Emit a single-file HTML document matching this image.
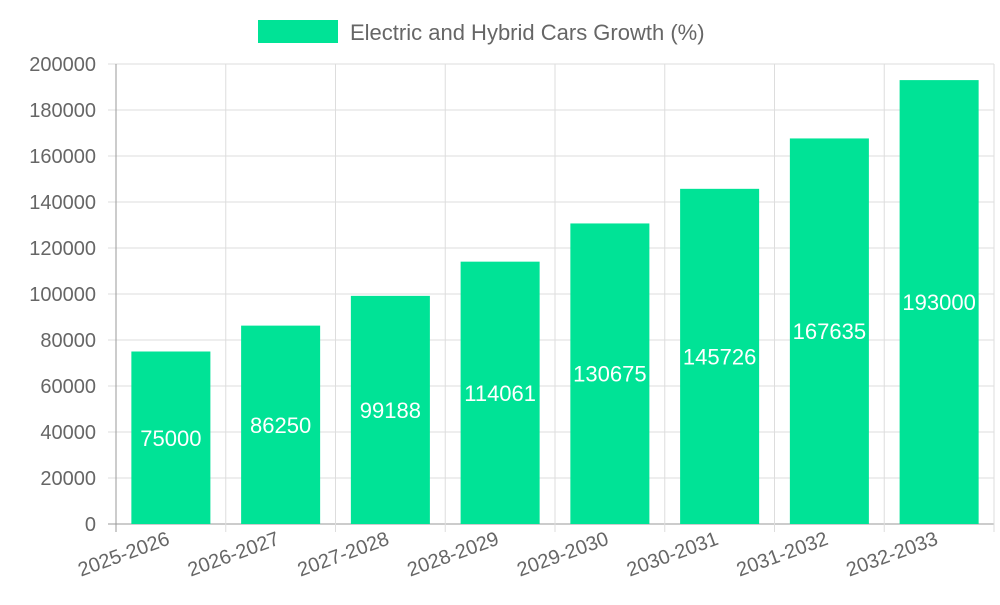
<!DOCTYPE html>
<html><head><meta charset="utf-8"><style>
body{margin:0;background:#fff;}
svg text{font-family:"Liberation Sans",sans-serif;}
</style></head><body>
<svg id="chart" width="1000" height="600" xmlns="http://www.w3.org/2000/svg">
<g>
<rect x="258" y="20" width="80" height="23" fill="#00e396"/>
<text x="350" y="40" font-size="22" fill="#666">Electric and Hybrid Cars Growth (%)</text>
</g>
<g id="grid"></g>
<g id="bars"></g>
<g id="axes"></g>
</svg>
<script>
const categories=["2025-2026","2026-2027","2027-2028","2028-2029","2029-2030","2030-2031","2031-2032","2032-2033"];
const values=[75000,86250,99188,114061,130675,145726,167635,193000];
const yTicks=[0,20000,40000,60000,80000,100000,120000,140000,160000,180000,200000];
const NS="http://www.w3.org/2000/svg";
const L=116,R=994,T=64,B=524,yMax=200000;
const bw=(R-L)/categories.length;
const y=v=>B-(v/yMax)*(B-T);
const x=i=>L+i*bw;
function mk(tag,attrs,parent,txt){const e=document.createElementNS(NS,tag);for(const k in attrs)e.setAttribute(k,attrs[k]);if(txt!==undefined)e.textContent=txt;document.getElementById(parent).appendChild(e);return e;}
yTicks.forEach(t=>{
 const g=mk('line',{x1:L-8,x2:R,y1:y(t),y2:y(t),stroke:t===0?'#999':'#ddd','stroke-width':1},'grid');
 
 
 const lb=mk('text',{x:L-20,y:y(t)+7,'text-anchor':'end','font-size':20,fill:'#666'},'axes',String(t));
 
 
});
for(let i=0;i<=categories.length;i++){
 const g=mk('line',{x1:x(i),x2:x(i),y1:T,y2:B+8,stroke:i===0?'#999':'#ddd','stroke-width':1},'grid');
 
 
}
categories.forEach((c,i)=>{
 const cx=x(i)+bw/2,w=bw*0.72,v=values[i];
 const r=mk('rect',{x:cx-w/2,y:y(v),width:w,height:B-y(v),fill:'#00e396'},'bars');
 
 
 const vl=mk('text',{x:cx,y:(y(v)+B)/2+8,'text-anchor':'middle','font-size':22,fill:'#fff'},'bars',String(v));
 
 
 const xl=mk('text',{x:cx,y:544,'text-anchor':'end','font-size':20,fill:'#666',transform:`rotate(-20 ${cx} 544)`},'axes',c);
 
 
});
</script>
</body></html>
